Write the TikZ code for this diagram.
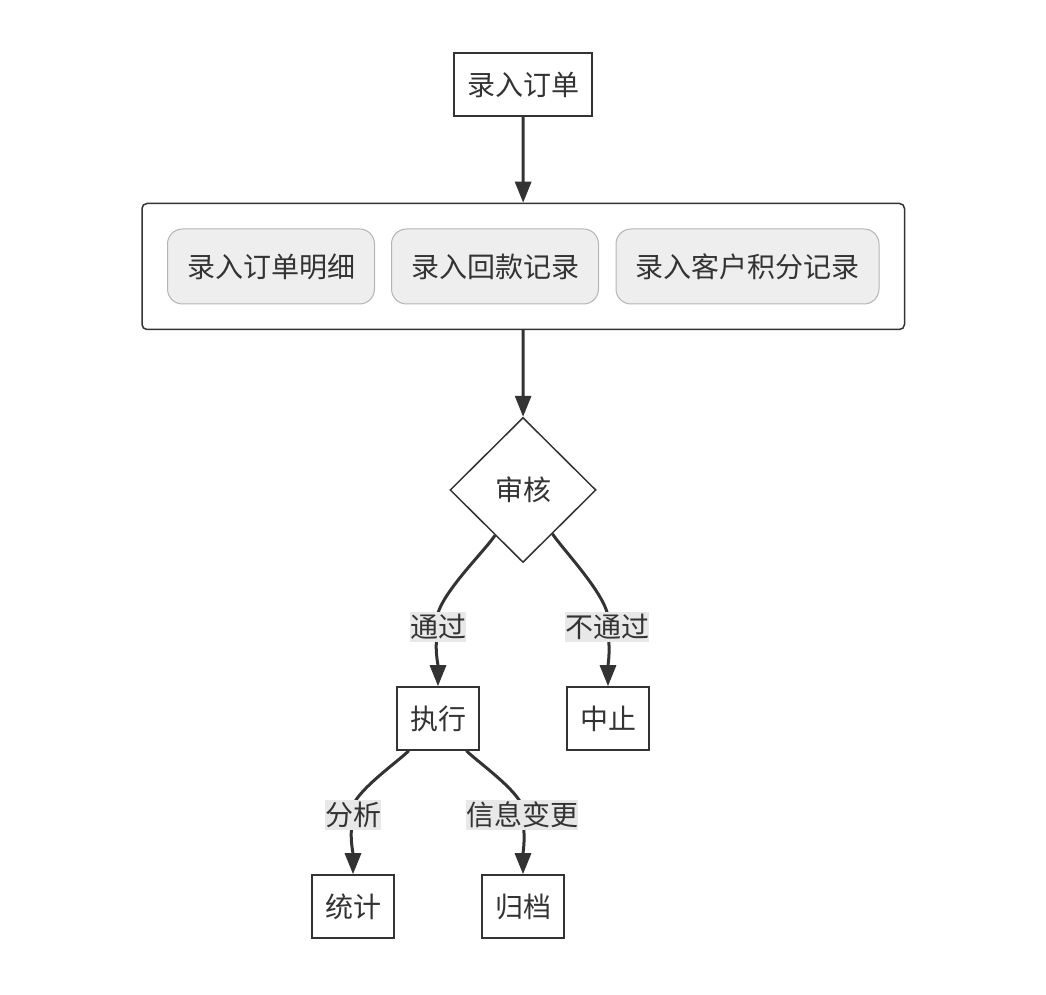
\documentclass[tikz,border=0pt]{standalone}
\usepackage{fontspec}
\setmainfont{Noto Sans CJK SC}
\usepackage{tikz}
\usetikzlibrary{calc,arrows.meta,positioning,shapes.geometric,fit}
\definecolor{flowDark}{HTML}{333333}
\definecolor{flowFill}{HTML}{EEEEEE}
\definecolor{flowLine}{HTML}{B4B4B4}
\definecolor{flowLabel}{HTML}{E8E8E8}

\tikzset{
    box/.style={draw=flowDark, line width=1.5pt, fill=white, text=flowDark,
        inner xsep=13pt, inner ysep=0pt, minimum height=63pt},
    subbox/.style={draw=flowLine, line width=1pt, fill=flowFill, text=flowDark,
        rounded corners=15pt, inner xsep=19.5pt, inner ysep=0pt, minimum height=75pt},
    groupbox/.style={draw=flowDark, line width=1.5pt, rounded corners=5pt},
    decision/.style={diamond, draw=flowDark, line width=1.5pt, fill=white, text=flowDark,
        inner sep=0pt, minimum width=146pt, minimum height=145pt},
    elabel/.style={fill=flowLabel, text=flowDark, inner sep=0pt, minimum height=30pt},
    flow/.style={draw=flowDark, line width=3pt, -{Triangle[length=21pt,width=16pt]}},
}

\begin{document}
\begin{tikzpicture}[x=1pt,y=1pt,font=\fontsize{28}{34}\selectfont]
    \useasboundingbox (0,0) rectangle (1046,995);

    % top node
    \node[box] (lr) at (523,910.5) {录入订单};

    % grouped inputs
    \node[subbox] (m1) at (271,728.5) {录入订单明细};
    \node[subbox, right=16pt of m1] (m2) {录入回款记录};
    \node[subbox, right=16.5pt of m2] (m3) {录入客户积分记录};
    \node[groupbox, fit=(m1)(m3), inner xsep=25pt, inner ysep=25pt] (grp) {};

    % decision and results
    \node[decision] (shen) at (523,505) {审核};
    \node[box] (zhixing) at (438,276.5) {执行};
    \node[box] (zhongzhi) at (608,276.5) {中止};
    \node[box] (tongji) at (353,88.5) {统计};
    \node[box] (guidang) at (523,88.5) {归档};

    % label points
    \coordinate (t1) at (438,368);
    \coordinate (t2) at (607,368);
    \coordinate (t3) at (353,180);
    \coordinate (t4) at (522,180);

    % straight arrows
    \draw[flow] (lr) -- (grp);
    \draw[flow] (grp) -- (shen);

    % branches of the decision
    \draw[flow] ($(shen.west)!0.62!(shen.south)$) to[out=-124,in=118,looseness=0.55] (t1)
        node[elabel] (l1) {通过} to[out=-100,in=90] (zhixing.north);
    \draw[flow] ($(shen.east)!0.6!(shen.south)$) to[out=-56,in=62,looseness=0.55] (t2)
        node[elabel] (l2) {不通过} to[out=-80,in=90] (zhongzhi.north);

    % branches of execution
    \draw[flow] ($(zhixing.south west)!0.15!(zhixing.south east)$) to[out=-135,in=122,looseness=0.55] (t3)
        node[elabel] (l3) {分析} to[out=-100,in=90] (tongji.north);
    \draw[flow] ($(zhixing.south west)!0.84!(zhixing.south east)$) to[out=-45,in=58,looseness=0.55] (t4)
        node[elabel] (l4) {信息变更} to[out=-80,in=90] (guidang.north);
\end{tikzpicture}
\end{document}
